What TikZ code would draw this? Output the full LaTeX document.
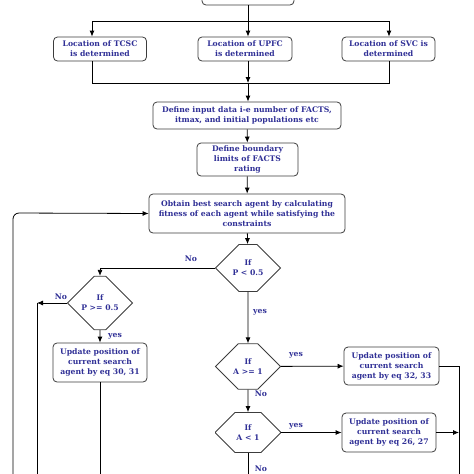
\documentclass[tikz,border=0pt]{standalone}
\usepackage{fontspec}
\setmainfont{DejaVu Serif}
\usetikzlibrary{shapes.misc,arrows.meta,positioning}
\definecolor{txtblue}{RGB}{48,48,150}
\definecolor{linegray}{RGB}{60,60,60}

\tikzset{
  stepbox/.style={rectangle, rounded corners=4pt, draw=linegray, line width=0.8pt, align=center, inner sep=1pt},
  decision/.style={chamfered rectangle, chamfered rectangle xsep=14pt, chamfered rectangle ysep=20pt, draw=linegray, line width=0.8pt, align=center, inner sep=0pt, minimum width=65pt, minimum height=40pt},
  lbl/.style={font=\fontsize{7.7}{10}\selectfont\bfseries, text=txtblue}
}

\begin{document}
\begin{tikzpicture}[x=1pt, y=-1pt, >={Latex[length=6pt,width=5pt]}, line width=0.8pt,
  every node/.style={font=\fontsize{7.7}{10}\selectfont\bfseries, text=txtblue}]
  \clip (0,0) rectangle (474,474);
  % Top part
  \node[stepbox, minimum width=92pt, minimum height=30pt] (top) at (248,-10) {\mbox{}\\buses and lines};
  \node[stepbox, minimum width=93pt, minimum height=24pt] (tcsc) at (100,49) {Location of TCSC\\is determined};
  \node[stepbox, minimum width=94pt, minimum height=24pt] (upfc) at (245,49) {Location of UPFC\\is determined};
  \node[stepbox, minimum width=93pt, minimum height=24pt] (svc) at (388.5,49) {Location of SVC is\\determined};
  \coordinate (jl) at (92,21);
  \coordinate (jr) at (389,21);
  \coordinate (bl) at (92,83);
  \coordinate (br) at (389,83);
  \coordinate (bm) at (248,83);
  % Setup boxes
  \node[stepbox, minimum width=188pt, minimum height=27pt] (input) at (247,115.5) {Define input data i-e number of FACTS,\\itmax, and initial populations etc};
  \node[stepbox, minimum width=101pt, minimum height=33pt] (bound) at (247.5,159.5) {Define boundary\\limits of FACTS\\rating};
  \node[stepbox, minimum width=196pt, minimum height=39pt] (obtain) at (247,213.5) {Obtain best search agent by calculating\\fitness of each agent while satisfying the\\constraints};
  % Decisions
  \node[decision] (pless) at (248,268) {If\\P < 0.5};
  \node[decision] (pmore) at (100,303) {If\\P >= 0.5};
  \node[decision] (amore) at (248,366.5) {If\\A >= 1};
  \node[decision] (aless) at (248,432.5) {If\\A < 1};
  % Updates
  \node[stepbox, minimum width=94pt, minimum height=39pt] (upd1) at (100,362.5) {Update position of\\current search\\agent by eq 30, 31};
  \node[stepbox, minimum width=95pt, minimum height=38pt] (upd2) at (391.5,366) {Update position of\\current search\\agent by eq 32, 33};
  \node[stepbox, minimum width=94pt, minimum height=39pt] (upd3) at (389,432.5) {Update position of\\current search\\agent by eq 26, 27};
  \coordinate (cn) at (37,303);
  \coordinate (cr) at (459,366);
  \coordinate (loop) at (13,213);
  % Connections
  \draw (top.south) -- (top.south |- jl);
  \draw (jl) -- (jr);
  \draw[->] (jl) -- (jl |- tcsc.north);
  \draw[->] (jr) -- (jr |- svc.north);
  \draw[->] (top.south) -- (top.south |- upfc.north);
  \draw (bl |- tcsc.south) -- (bl) -- (br) -- (br |- svc.south);
  \draw[->] (bm |- upfc.south) -- (bm);
  \draw[->] (bm) -- (bm |- input.north);
  \draw[->] (input) -- (bound);
  \draw[->] (bound) -- (obtain);
  \draw[->] (obtain) -- (pless);
  \draw[->] (pless.west) -| (pmore.north);
  \draw[->] (pmore.west) -- (cn);
  \draw (cn) -- (37,480);
  \draw[->] (pmore) -- (upd1);
  \draw (upd1.south) -- (100,480);
  \draw[->] (pless) -- (amore);
  \draw[->] (amore) -- (upd2);
  \draw[->] (amore) -- (aless);
  \draw[->] (aless) -- (upd3);
  \draw (upd2.east) -- (cr) -- (459,480);
  \draw[->] (upd3.east) -- (upd3.east -| cr);
  \draw (aless.south) -- (248,480);
  \draw[->, rounded corners=6pt] (13,480) -- (loop) -- (obtain.west);
  % Labels
  \node[lbl] (n1) at (191,259) {No};
  \node[lbl] (n2) at (61,297) {No};
  \node[lbl] (y1) at (115,336) {yes};
  \node[lbl] (y2) at (260,312) {yes};
  \node[lbl] (y3) at (296,355) {yes};
  \node[lbl] (n3) at (261,394) {No};
  \node[lbl] (y4) at (296,426) {yes};
  \node[lbl] (n4) at (261,469) {No};
\end{tikzpicture}
\end{document}
